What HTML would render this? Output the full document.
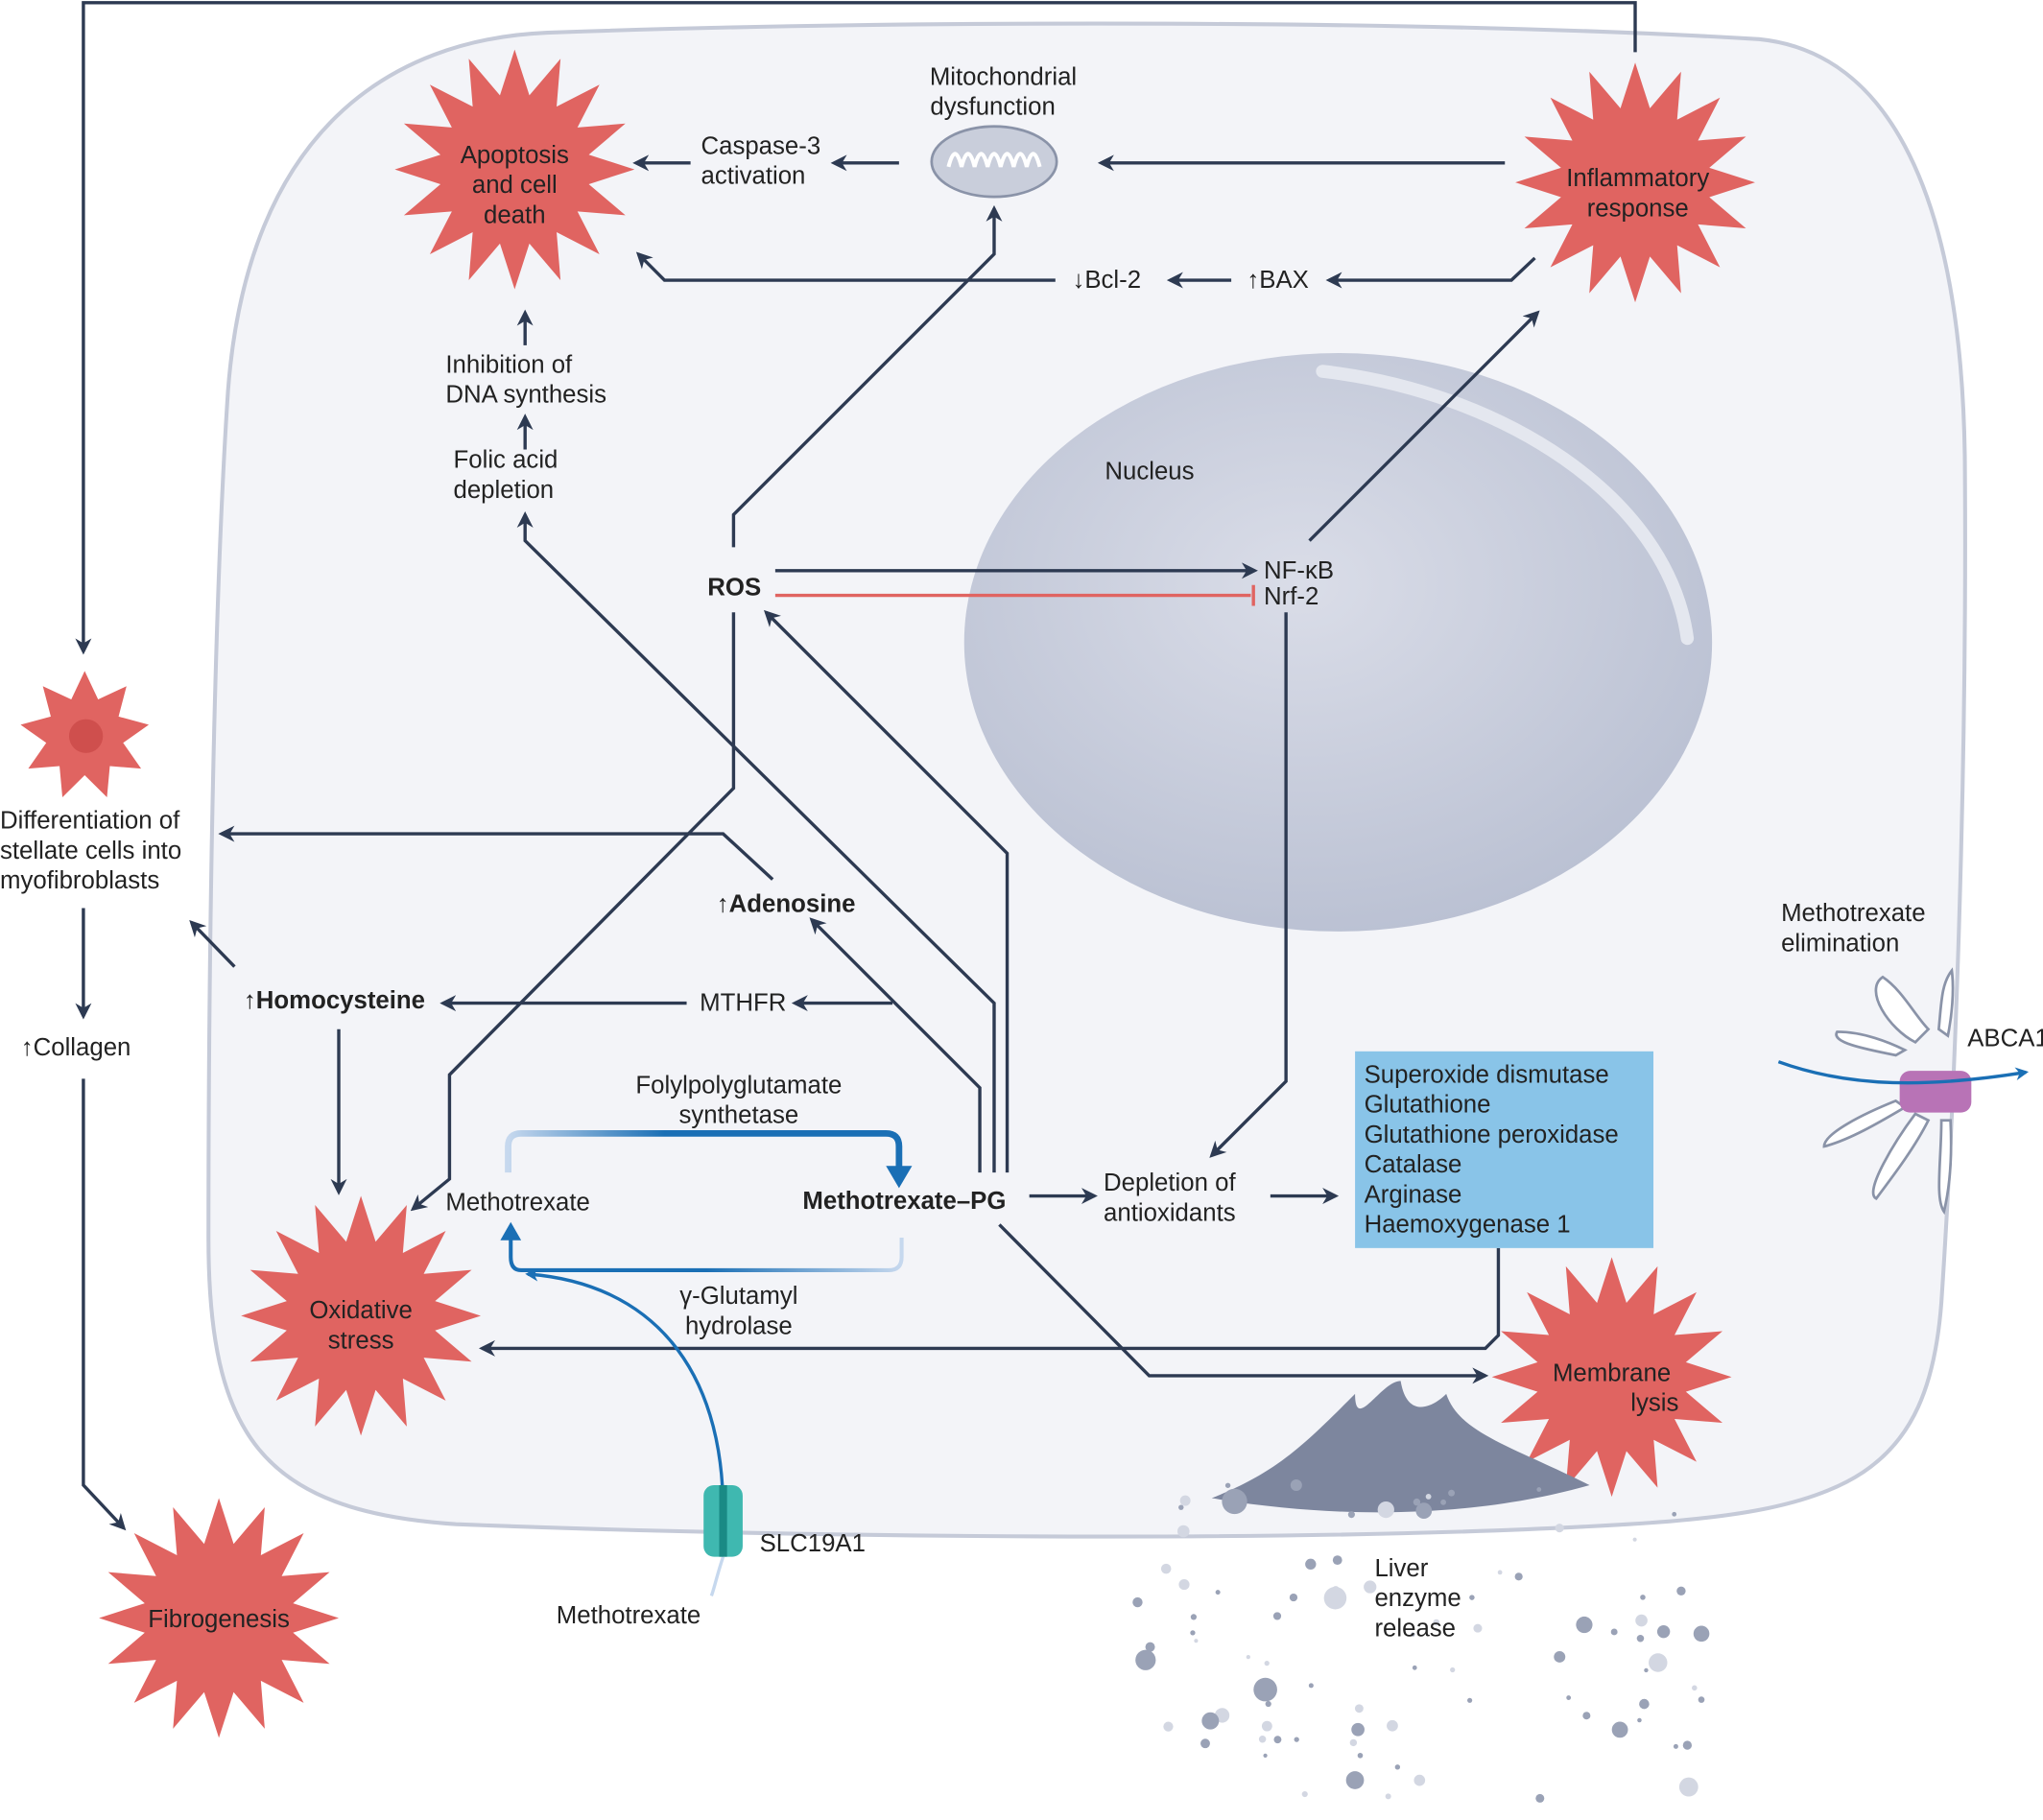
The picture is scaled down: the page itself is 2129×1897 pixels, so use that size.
<!DOCTYPE html>
<html><head><meta charset="utf-8">
<style>
html,body{margin:0;padding:0;background:#fff;}
svg{display:block;}
text{font-family:"Liberation Sans",sans-serif;font-size:19px;fill:#222;}
.b{font-weight:bold;}
</style></head>
<body>
<svg id="s" width="2129" height="1897" viewBox="0 0 1568 1397" xmlns="http://www.w3.org/2000/svg">
<defs>
<marker id="a" viewBox="0 0 10 10" refX="8" refY="5" markerWidth="5" markerHeight="5" orient="auto"><path d="M0,0 L10,5 L0,10 L3,5 Z" fill="#2d3a52"/></marker>
<marker id="ab" viewBox="0 0 10 10" refX="8" refY="5" markerWidth="4" markerHeight="4" orient="auto"><path d="M0,0 L10,5 L0,10 L3,5 Z" fill="#1a6fb5"/></marker>
<radialGradient id="nuc" cx="0.45" cy="0.4" r="0.7"><stop offset="0" stop-color="#dadde8"/><stop offset="1" stop-color="#b6bdd0"/></radialGradient>
<linearGradient id="bl" x1="0" x2="1"><stop offset="0" stop-color="#c6d8ee"/><stop offset="0.4" stop-color="#1a6fb5"/></linearGradient>
<linearGradient id="bl2" x1="0" x2="1"><stop offset="0.5" stop-color="#1a6fb5"/><stop offset="1" stop-color="#c6d8ee"/></linearGradient>
</defs>
<path d="M420,25 C700,15 1100,15 1350,30 C1450,40 1505,150 1508,350 C1510,600 1500,850 1490,1000 C1480,1130 1420,1160 1250,1170 C1000,1185 600,1180 350,1170 C200,1160 160,1100 160,950 C160,700 165,450 175,300 C190,100 300,30 420,25 Z" fill="#f3f4f8" stroke="#c5cad8" stroke-width="3"/>
<ellipse cx="1027" cy="493" rx="287" ry="222" fill="url(#nuc)"/>
<path d="M1015,285 C1150,300 1280,380 1295,490" fill="none" stroke="#e4e7ef" stroke-width="10" stroke-linecap="round"/>
<g id="stars" fill="#e06461"></g>
<!-- mito -->
<ellipse cx="763" cy="124" rx="48" ry="27" fill="#c9cedb" stroke="#8a93a8" stroke-width="2"/>
<path d="M728,128 q5,-20 10,0 q5,-20 10,0 q5,-20 10,0 q5,-20 10,0 q5,-20 10,0 q5,-20 10,0 q5,-20 10,0" fill="none" stroke="#fff" stroke-width="3"/>
<g fill="none" stroke="#2d3a52" stroke-width="2.5">
<path d="M1255,40 V2 H64 V500" marker-end="url(#a)"/>
<path d="M1155,125 H845" marker-end="url(#a)"/>
<path d="M690,125 H640" marker-end="url(#a)"/>
<path d="M530,125 H488" marker-end="url(#a)"/>
<path d="M1178,198 L1160,215 H1020" marker-end="url(#a)"/>
<path d="M945,215 H898" marker-end="url(#a)"/>
<path d="M810,215 H510 L490,195" marker-end="url(#a)"/>
<path d="M403,265 V240" marker-end="url(#a)"/>
<path d="M403,345 V320" marker-end="url(#a)"/>
<path d="M563,420 V395 L763,195 V160" marker-end="url(#a)"/>
<path d="M595,438 H963" marker-end="url(#a)"/>
<path d="M1005,415 L1180,240" marker-end="url(#a)"/>
<path d="M987,470 V830 L930,887" marker-end="url(#a)"/>
<path d="M563,470 V605 L345,825 V905 L317,928" marker-end="url(#a)"/>
<path d="M593,675 L555,640 H170" marker-end="url(#a)"/>
<path d="M752,900 V835 L623,706" marker-end="url(#a)"/>
<path d="M763,900 V770 L403,415 V395" marker-end="url(#a)"/>
<path d="M773,900 V655 L588,470" marker-end="url(#a)"/>
<path d="M685,770 H610" marker-end="url(#a)"/>
<path d="M527,770 H340" marker-end="url(#a)"/>
<path d="M180,742 L147,708" marker-end="url(#a)"/>
<path d="M260,790 V915" marker-end="url(#a)"/>
<path d="M64,697 V780" marker-end="url(#a)"/>
<path d="M64,828 V1140 L95,1173" marker-end="url(#a)"/>
<path d="M790,918 H840" marker-end="url(#a)"/>
<path d="M975,918 H1025" marker-end="url(#a)"/>
<path d="M1150,958 V1025 L1140,1035 H370" marker-end="url(#a)"/>
<path d="M767,940 L882,1056 H1140" marker-end="url(#a)"/>
</g>
<path d="M595,457 H960 M962,449 V465" stroke="#e06461" stroke-width="2.5" fill="none"/>
<path d="M390,900 V880 Q390,870 400,870 H680 Q690,870 690,880 V900" fill="none" stroke="url(#bl)" stroke-width="5"/>
<path d="M680,895 L700,895 L690,912 Z" fill="#1a6fb5"/>
<path d="M692,950 V965 Q692,975 682,975 H400 Q392,975 392,965 V948" fill="none" stroke="url(#bl2)" stroke-width="3"/>
<path d="M384,952 L392,938 L400,952 Z" fill="#1a6fb5"/>
<path d="M555,1160 C555,1050 500,985 405,978" fill="none" stroke="#1a6fb5" stroke-width="2.5" marker-end="url(#ab)"/>
<path d="M555,1195 C550,1210 548,1220 546,1225" stroke="#c6d8ee" stroke-width="2.5" fill="none"/>
<rect x="540" y="1140" width="30" height="55" rx="8" fill="#3fb8b0"/>
<rect x="552" y="1140" width="6" height="55" fill="#1a8a85"/>
<rect x="1040" y="807" width="229" height="151" fill="#89c4e8"/>
<!-- ABCA1 -->
<g fill="#fff" stroke="#8a93a8" stroke-width="2">
<path d="M1470,800 C1450,790 1430,760 1445,750 C1460,760 1470,780 1480,790 Z"/>
<path d="M1488,790 C1490,770 1490,755 1498,745 C1500,760 1498,780 1495,795 Z"/>
<path d="M1455,810 C1430,805 1405,800 1410,792 C1430,792 1450,800 1462,806 Z"/>
<path d="M1455,845 C1430,855 1400,870 1400,880 C1420,875 1445,860 1462,850 Z"/>
<path d="M1470,855 C1455,875 1430,915 1440,920 C1455,900 1470,880 1480,860 Z"/>
<path d="M1490,860 C1490,890 1485,920 1492,930 C1498,905 1498,880 1497,860 Z"/>
</g>
<rect x="1458" y="822" width="55" height="32" rx="8" fill="#b873b6"/>
<path d="M1365,815 C1420,835 1480,835 1555,823" fill="none" stroke="#1a6fb5" stroke-width="2.5" marker-end="url(#ab)"/>
<!-- liver debris -->
<path d="M930,1150 C980,1130 1000,1110 1040,1070 C1040,1100 1060,1060 1075,1060 C1080,1090 1100,1080 1110,1070 C1120,1100 1160,1110 1220,1140 C1150,1160 1050,1170 930,1150 Z" fill="#7d869e"/>
<g id="dots" fill="#9aa2b6"></g>
<text x="770" y="65" text-anchor="middle">Mitochondrial</text><text x="762" y="88" text-anchor="middle">dysfunction</text>
<text x="395" y="125" text-anchor="middle">Apoptosis</text><text x="395" y="148" text-anchor="middle">and cell</text><text x="395" y="171" text-anchor="middle">death</text>
<text x="538" y="118">Caspase-3</text><text x="538" y="141">activation</text>
<text x="1257" y="143" text-anchor="middle">Inflammatory</text><text x="1257" y="166" text-anchor="middle">response</text>
<text x="823" y="221">↓Bcl-2</text><text x="957" y="221">↑BAX</text>
<text x="342" y="286">Inhibition of</text><text x="342" y="309">DNA synthesis</text>
<text x="348" y="359">Folic acid</text><text x="348" y="382">depletion</text>
<text x="848" y="368">Nucleus</text>
<text x="543" y="457" class="b">ROS</text>
<text x="970" y="444">NF-κB</text><text x="970" y="464">Nrf-2</text>
<text x="0" y="636">Differentiation of</text><text x="0" y="659">stellate cells into</text><text x="0" y="682">myofibroblasts</text>
<text x="550" y="700" class="b">↑Adenosine</text>
<text x="1367" y="707">Methotrexate</text><text x="1367" y="730">elimination</text>
<text x="187" y="774" class="b">↑Homocysteine</text>
<text x="537" y="776">MTHFR</text>
<text x="1510" y="803">ABCA1</text>
<text x="16" y="810">↑Collagen</text>
<text x="567" y="839" text-anchor="middle">Folylpolyglutamate</text><text x="567" y="862" text-anchor="middle">synthetase</text>
<g font-size="19"><text x="1047" y="831">Superoxide dismutase</text><text x="1047" y="854">Glutathione</text><text x="1047" y="877">Glutathione peroxidase</text><text x="1047" y="900">Catalase</text><text x="1047" y="923">Arginase</text><text x="1047" y="946">Haemoxygenase 1</text></g>
<text x="847" y="914">Depletion of</text><text x="847" y="937">antioxidants</text>
<text x="342" y="929">Methotrexate</text>
<text x="616" y="928" class="b">Methotrexate–PG</text>
<text x="567" y="1001" text-anchor="middle">γ-Glutamyl</text><text x="567" y="1024" text-anchor="middle">hydrolase</text>
<text x="277" y="1012" text-anchor="middle">Oxidative</text><text x="277" y="1035" text-anchor="middle">stress</text>
<text x="1237" y="1060" text-anchor="middle">Membrane</text><text x="1270" y="1083" text-anchor="middle">lysis</text>
<text x="583" y="1191">SLC19A1</text>
<text x="1055" y="1210">Liver</text><text x="1055" y="1233">enzyme</text><text x="1055" y="1256">release</text>
<text x="168" y="1249" text-anchor="middle">Fibrogenesis</text>
<text x="427" y="1246">Methotrexate</text>
</svg>
<script>
var NS="http://www.w3.org/2000/svg";
function star(cx,cy,ro,ri,n){var p=[];for(var i=0;i<2*n;i++){var r=i%2?ri:ro,a=Math.PI*i/n-Math.PI/2;p.push((cx+r*Math.cos(a)).toFixed(1)+","+(cy+r*Math.sin(a)).toFixed(1));}var e=document.createElementNS(NS,"polygon");e.setAttribute("points",p.join(" "));document.getElementById("stars").appendChild(e);}
star(395,130,92,58,16);star(1255,140,92,58,16);star(277,1010,92,58,16);star(1237,1057,92,58,16);star(168,1242,92,58,16);
// stellate cell
var g=document.getElementById("stars");var c=document.createElementNS(NS,"circle");
star(65,565,50,30,9);
c.setAttribute("cx",66);c.setAttribute("cy",565);c.setAttribute("r",13);c.setAttribute("fill","#cf4f4d");g.appendChild(c);
var d=document.getElementById("dots");var s=7;
function rnd(){s=(s*9301+49297)%233280;return s/233280;}
for(var i=0;i<90;i++){var x=870+rnd()*440,y=1140+rnd()*250;var k=document.createElementNS(NS,"circle");k.setAttribute("cx",x);k.setAttribute("cy",y);k.setAttribute("r",1.5+rnd()*rnd()*9);k.setAttribute("fill",rnd()<0.5?"#9aa2b6":"#d3d7e2");d.appendChild(k);}
</script>
</body></html>
